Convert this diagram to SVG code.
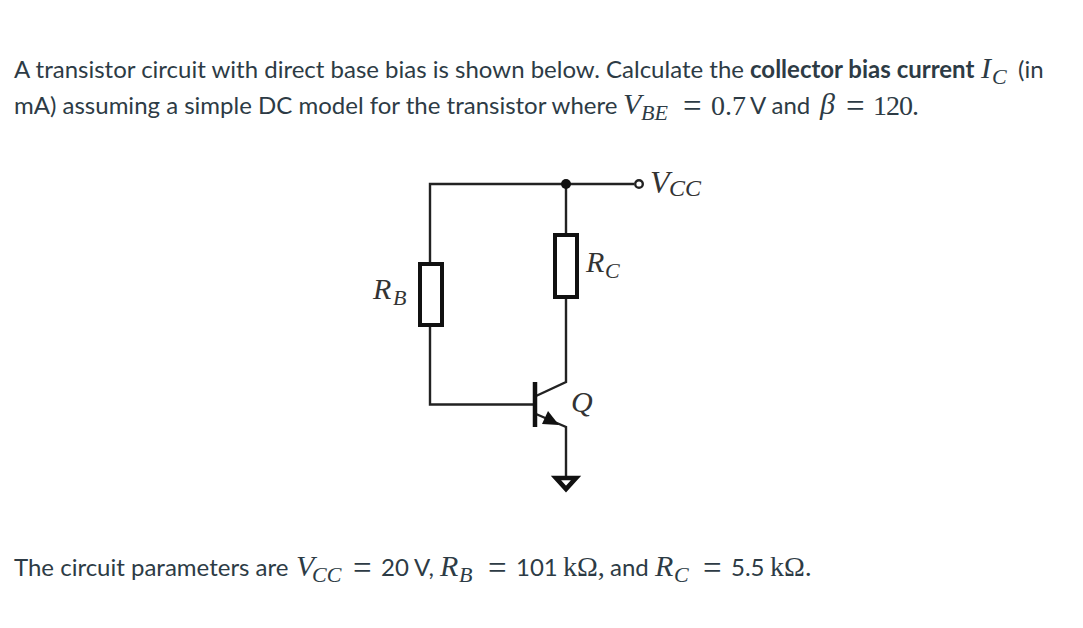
<svg xmlns="http://www.w3.org/2000/svg" width="1083" height="628" viewBox="0 0 1083 628">
<style>
.t{font-family:Lato,"Open Sans","Liberation Sans",sans-serif;font-size:24px;fill:#2d3b45}
.b{font-weight:700}
.m{font-family:"Liberation Serif","DejaVu Serif",serif;font-size:28px;fill:#2d3b45}
.e{font-family:"Liberation Serif","DejaVu Serif",serif;font-size:33px;fill:#2d3b45}
.v{font-family:"Liberation Serif","DejaVu Serif",serif;font-style:italic;font-size:30px;fill:#2d3b45}
.s{font-family:"Liberation Serif","DejaVu Serif",serif;font-style:italic;font-size:22px;fill:#2d3b45}
.c{font-family:"Liberation Serif","DejaVu Serif",serif;font-style:italic;fill:#333}
.w{fill:none;stroke:#222;stroke-width:2.400;stroke-linejoin:miter}
.r{fill:#fff;stroke:#111;stroke-width:4}
</style>
<rect width="1083" height="628" fill="#fff"/>
<g id="question">
<text class="t" x="14" y="78">A transistor circuit with direct base bias is shown below. Calculate the</text>
<text class="t b" x="750" y="78">collector bias current</text>
<text class="v" x="981" y="78">I</text><text class="s" x="992" y="84">C</text>
<text class="t" x="1018" y="78">(in</text>
<text class="t" x="14" y="114">mA) assuming a simple DC model for the transistor where</text>
<text class="v" x="623" y="114">V</text><text class="s" x="641" y="120">BE</text>
<text class="e" x="683" y="117">=</text><text class="m" x="711" y="115">0.7</text>
<text class="t" x="750" y="114">V and</text>
<text class="v" x="820" y="114" font-size="28">β</text>
<text class="e" x="846" y="117">=</text><text class="m" x="873" y="115" textLength="46">120.</text>
</g>
<g id="connectors">
<path class="w" d="M430 264V184H634"/>
<path class="w" d="M566 184V234M566 297V382L536 396"/>
<path class="w" d="M430 325V404.500H533"/>
<path class="w" d="M536 414L566 427V476"/>
</g>
<g id="junction"><circle cx="566" cy="184" r="5" fill="#111"/></g>
<g id="vcc-terminal"><circle cx="639" cy="184" r="3.800" fill="#fff" stroke="#222" stroke-width="2.400"/></g>
<g id="vcc"><text class="c" font-size="32" x="650" y="193">V</text><text class="c" font-size="24" x="669" y="196">CC</text></g>
<g id="rb"><rect class="r" x="420" y="264" width="22" height="61"/><text class="c" font-size="30" x="373" y="299">R</text><text class="c" font-size="22" x="393" y="305">B</text></g>
<g id="rc"><rect class="r" x="555" y="235" width="22" height="62"/><text class="c" font-size="30" x="586" y="272">R</text><text class="c" font-size="22" x="605" y="278">C</text></g>
<g id="q">
<path d="M535 382V427" fill="none" stroke="#111" stroke-width="4.500"/>
<path d="M542 424L548 411L559 425Z" fill="#111"/>
<text class="c" font-size="30" x="571" y="412">Q</text>
</g>
<g id="ground"><path d="M556 478H576L566 489Z" fill="#fff" stroke="#111" stroke-width="4.600"/></g>
<g id="parameters">
<text class="t" x="14" y="576">The circuit parameters are</text>
<text class="v" x="296" y="576">V</text><text class="s" x="312" y="582">CC</text>
<text class="e" x="353" y="579">=</text>
<text class="t" x="381" y="576">20 V,</text>
<text class="v" x="440" y="576">R</text><text class="s" x="459" y="582">B</text>
<text class="e" x="488" y="579">=</text>
<text class="t" x="516" y="576">101</text>
<text class="m" x="563" y="576">kΩ,</text>
<text class="t" x="610" y="576">and</text>
<text class="v" x="655" y="576">R</text><text class="s" x="674" y="582">C</text>
<text class="e" x="703" y="579">=</text>
<text class="t" x="731" y="576">5.5</text>
<text class="m" x="770" y="576">kΩ.</text>
</g>
</svg>
